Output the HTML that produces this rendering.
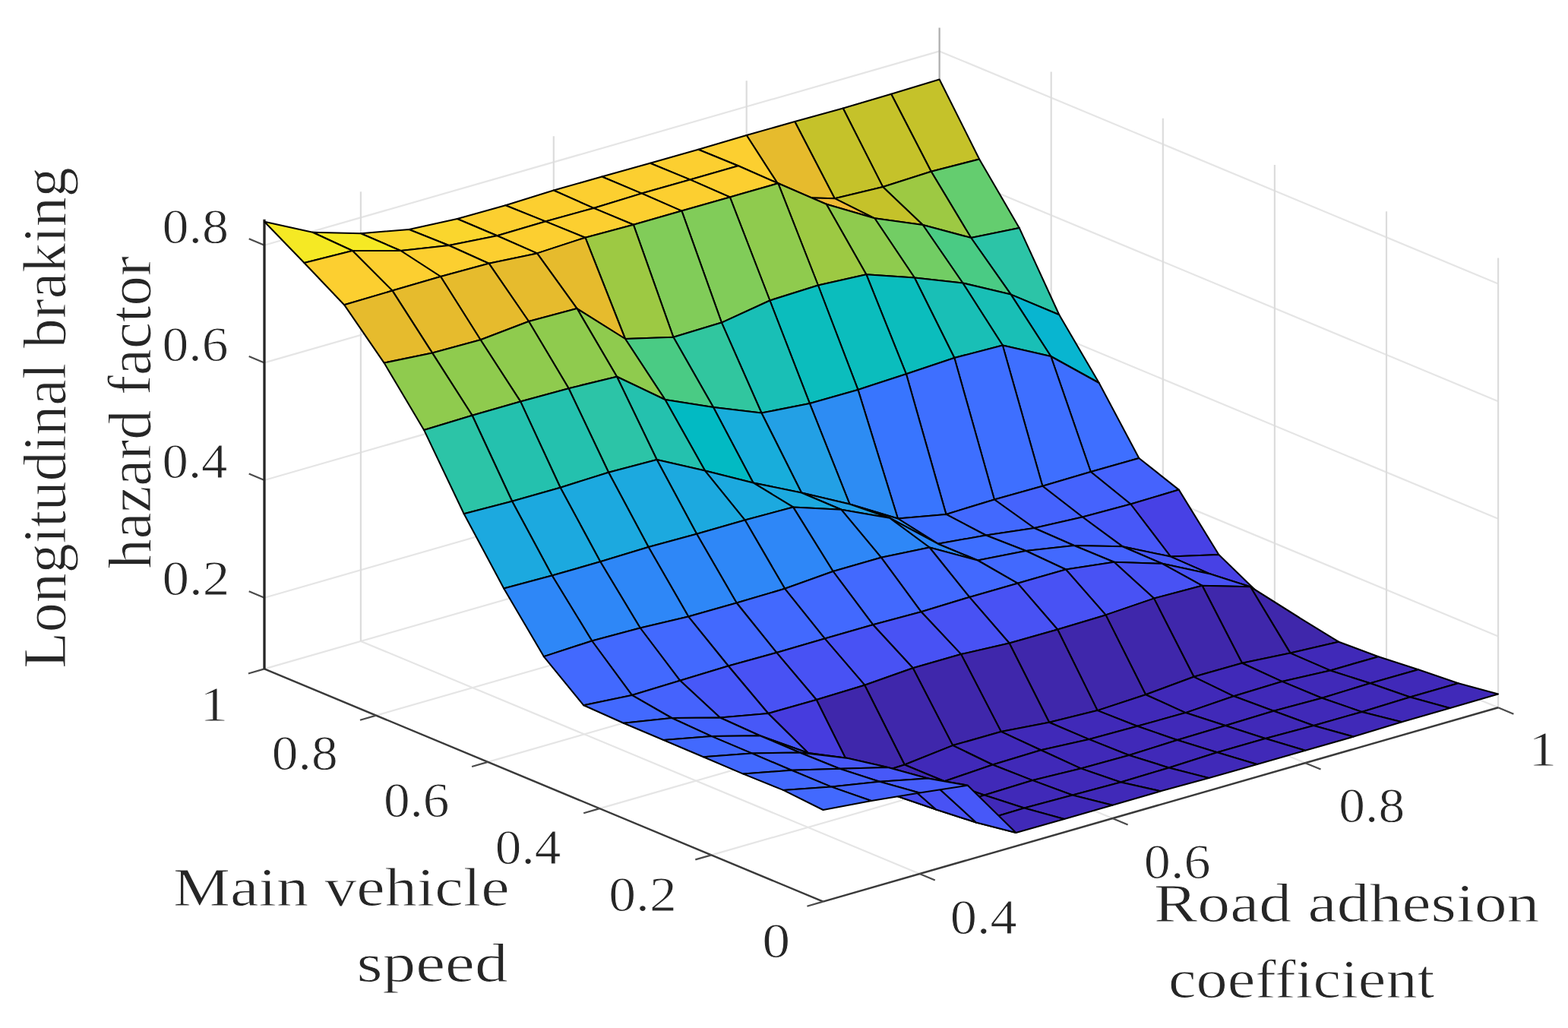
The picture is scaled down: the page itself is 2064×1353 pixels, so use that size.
<!DOCTYPE html>
<html><head><meta charset="utf-8"><title>Surface</title>
<style>html,body{margin:0;padding:0;background:#fff;overflow:hidden}svg{display:block}</style></head>
<body>
<svg width="2064" height="1353" viewBox="0 0 2064 1353">
<rect width="2064" height="1353" fill="#fff"/>
<g><line x1="1210.4" y1="1150.1" x2="474.9" y2="843.9" stroke="#e5e5e5" stroke-width="2.20"/><line x1="1464.3" y1="1077.1" x2="728.8" y2="770.9" stroke="#e5e5e5" stroke-width="2.20"/><line x1="1718.2" y1="1004.2" x2="982.7" y2="698.0" stroke="#e5e5e5" stroke-width="2.20"/><line x1="1972.1" y1="931.2" x2="1236.6" y2="625.0" stroke="#e5e5e5" stroke-width="2.20"/><line x1="936.4" y1="1125.4" x2="1825.0" y2="870.0" stroke="#e5e5e5" stroke-width="2.20"/><line x1="789.3" y1="1064.1" x2="1677.9" y2="808.7" stroke="#e5e5e5" stroke-width="2.20"/><line x1="642.2" y1="1002.9" x2="1530.8" y2="747.5" stroke="#e5e5e5" stroke-width="2.20"/><line x1="495.1" y1="941.6" x2="1383.7" y2="686.2" stroke="#e5e5e5" stroke-width="2.20"/><line x1="348.0" y1="880.4" x2="1236.6" y2="625.0" stroke="#e5e5e5" stroke-width="2.20"/><line x1="348.0" y1="786.7" x2="1236.6" y2="531.3" stroke="#e5e5e5" stroke-width="2.20"/><line x1="1236.6" y1="531.3" x2="1972.1" y2="837.5" stroke="#e5e5e5" stroke-width="2.20"/><line x1="348.0" y1="632.0" x2="1236.6" y2="376.6" stroke="#e5e5e5" stroke-width="2.20"/><line x1="1236.6" y1="376.6" x2="1972.1" y2="682.8" stroke="#e5e5e5" stroke-width="2.20"/><line x1="348.0" y1="477.4" x2="1236.6" y2="222.0" stroke="#e5e5e5" stroke-width="2.20"/><line x1="1236.6" y1="222.0" x2="1972.1" y2="528.2" stroke="#e5e5e5" stroke-width="2.20"/><line x1="348.0" y1="322.8" x2="1236.6" y2="67.4" stroke="#e5e5e5" stroke-width="2.20"/><line x1="1236.6" y1="67.4" x2="1972.1" y2="373.6" stroke="#e5e5e5" stroke-width="2.20"/></g>
<g><line x1="474.9" y1="843.9" x2="474.9" y2="252.3" stroke="#dcdcdc" stroke-width="2.20"/><line x1="728.8" y1="770.9" x2="728.8" y2="179.3" stroke="#dcdcdc" stroke-width="2.20"/><line x1="982.7" y1="698.0" x2="982.7" y2="106.3" stroke="#dcdcdc" stroke-width="2.20"/><line x1="1236.6" y1="625.0" x2="1236.6" y2="36.4" stroke="#adadad" stroke-width="2.20"/><line x1="1972.1" y1="931.2" x2="1972.1" y2="339.5" stroke="#dcdcdc" stroke-width="2.20"/><line x1="1825.0" y1="870.0" x2="1825.0" y2="278.3" stroke="#dcdcdc" stroke-width="2.20"/><line x1="1677.9" y1="808.7" x2="1677.9" y2="217.1" stroke="#dcdcdc" stroke-width="2.20"/><line x1="1530.8" y1="747.5" x2="1530.8" y2="155.8" stroke="#dcdcdc" stroke-width="2.20"/><line x1="1383.7" y1="686.2" x2="1383.7" y2="94.6" stroke="#dcdcdc" stroke-width="2.20"/></g>
<g><line x1="348.0" y1="880.4" x2="1083.5" y2="1186.6" stroke="#3a3a3a" stroke-width="2.50"/><line x1="1083.5" y1="1186.6" x2="1972.1" y2="931.2" stroke="#3a3a3a" stroke-width="2.50"/><line x1="348.0" y1="786.7" x2="327.7" y2="778.2" stroke="#4a4a4a" stroke-width="2.20"/><line x1="348.0" y1="632.0" x2="327.7" y2="623.6" stroke="#4a4a4a" stroke-width="2.20"/><line x1="348.0" y1="477.4" x2="327.7" y2="469.0" stroke="#4a4a4a" stroke-width="2.20"/><line x1="348.0" y1="322.8" x2="327.7" y2="314.3" stroke="#4a4a4a" stroke-width="2.20"/><line x1="1083.5" y1="1186.6" x2="1062.4" y2="1192.7" stroke="#4a4a4a" stroke-width="2.20"/><line x1="936.4" y1="1125.4" x2="915.3" y2="1131.4" stroke="#4a4a4a" stroke-width="2.20"/><line x1="789.3" y1="1064.1" x2="768.2" y2="1070.2" stroke="#4a4a4a" stroke-width="2.20"/><line x1="642.2" y1="1002.9" x2="621.1" y2="1009.0" stroke="#4a4a4a" stroke-width="2.20"/><line x1="495.1" y1="941.6" x2="474.0" y2="947.7" stroke="#4a4a4a" stroke-width="2.20"/><line x1="348.0" y1="880.4" x2="326.9" y2="886.5" stroke="#4a4a4a" stroke-width="2.20"/><line x1="1210.4" y1="1150.1" x2="1230.8" y2="1158.6" stroke="#4a4a4a" stroke-width="2.20"/><line x1="1464.3" y1="1077.1" x2="1484.6" y2="1085.6" stroke="#4a4a4a" stroke-width="2.20"/><line x1="1718.2" y1="1004.2" x2="1738.5" y2="1012.6" stroke="#4a4a4a" stroke-width="2.20"/><line x1="1972.1" y1="931.2" x2="1992.4" y2="939.7" stroke="#4a4a4a" stroke-width="2.20"/></g>
<g><line x1="348.0" y1="880.4" x2="348.0" y2="288.7" stroke="#262626" stroke-width="3.30"/></g>
<g stroke="#000" stroke-width="2.05" stroke-linejoin="round">
<polygon points="1225.7,225.7 1289.1,209.5 1236.6,104.5 1173.1,123.8" fill="#c5c22a"/>
<polygon points="1162.2,246.1 1225.7,225.7 1173.1,123.8 1109.7,142.5" fill="#c5c22a"/>
<polygon points="1098.7,261.2 1162.2,246.1 1109.7,142.5 1046.2,160.0" fill="#c5c22a"/>
<polygon points="1035.2,259.5 1098.7,261.2 1046.2,160.0 982.7,178.0" fill="#e6bb2d"/>
<polygon points="971.8,218.2 1035.2,259.5 982.7,178.0 919.2,196.8" fill="#fccf30"/>
<polygon points="908.3,236.4 971.8,218.2 919.2,196.8 855.8,214.8" fill="#fccf30"/>
<polygon points="844.8,254.6 908.3,236.4 855.8,214.8 792.3,232.5" fill="#fccf30"/>
<polygon points="781.4,273.9 844.8,254.6 792.3,232.5 728.8,250.5" fill="#fccf30"/>
<polygon points="717.9,291.4 781.4,273.9 728.8,250.5 665.4,270.2" fill="#fccf30"/>
<polygon points="654.4,310.3 717.9,291.4 665.4,270.2 601.9,288.0" fill="#fccf30"/>
<polygon points="590.9,323.0 654.4,310.3 601.9,288.0 538.4,302.0" fill="#fad62d"/>
<polygon points="527.5,330.0 590.9,323.0 538.4,302.0 474.9,307.2" fill="#fad62d"/>
<polygon points="464.0,330.0 527.5,330.0 474.9,307.2 411.5,305.7" fill="#f5e924"/>
<polygon points="400.5,346.0 464.0,330.0 411.5,305.7 348.0,291.8" fill="#f5e924"/>
<polygon points="1278.2,313.0 1341.7,299.9 1289.1,209.5 1225.7,225.7" fill="#64cd6f"/>
<polygon points="1214.7,296.0 1278.2,313.0 1225.7,225.7 1162.2,246.1" fill="#9dc943"/>
<polygon points="1151.3,287.3 1214.7,296.0 1162.2,246.1 1098.7,261.2" fill="#c5c22a"/>
<polygon points="1087.8,268.8 1151.3,287.3 1098.7,261.2 1035.2,259.5" fill="#f0ba36"/>
<polygon points="1024.3,241.3 1087.8,268.8 1035.2,259.5 971.8,218.2" fill="#fccf30"/>
<polygon points="960.8,259.4 1024.3,241.3 971.8,218.2 908.3,236.4" fill="#fccf30"/>
<polygon points="897.4,277.6 960.8,259.4 908.3,236.4 844.8,254.6" fill="#fccf30"/>
<polygon points="833.9,295.8 897.4,277.6 844.8,254.6 781.4,273.9" fill="#fccf30"/>
<polygon points="770.4,312.7 833.9,295.8 781.4,273.9 717.9,291.4" fill="#fccf30"/>
<polygon points="707.0,333.4 770.4,312.7 717.9,291.4 654.4,310.3" fill="#fccf30"/>
<polygon points="643.5,346.7 707.0,333.4 654.4,310.3 590.9,323.0" fill="#fccf30"/>
<polygon points="580.0,364.0 643.5,346.7 590.9,323.0 527.5,330.0" fill="#fccf30"/>
<polygon points="516.5,382.6 580.0,364.0 527.5,330.0 464.0,330.0" fill="#fccf30"/>
<polygon points="453.1,401.2 516.5,382.6 464.0,330.0 400.5,346.0" fill="#fccf30"/>
<polygon points="1330.7,387.6 1394.2,414.3 1341.7,299.9 1278.2,313.0" fill="#2cc4a7"/>
<polygon points="1267.3,372.5 1330.7,387.6 1278.2,313.0 1214.7,296.0" fill="#4acb84"/>
<polygon points="1203.8,365.5 1267.3,372.5 1214.7,296.0 1151.3,287.3" fill="#72cd64"/>
<polygon points="1140.3,361.2 1203.8,365.5 1151.3,287.3 1087.8,268.8" fill="#8fcb4e"/>
<polygon points="1076.9,375.5 1140.3,361.2 1087.8,268.8 1024.3,241.3" fill="#9dc943"/>
<polygon points="1013.4,395.5 1076.9,375.5 1024.3,241.3 960.8,259.4" fill="#8fcb4e"/>
<polygon points="949.9,424.6 1013.4,395.5 960.8,259.4 897.4,277.6" fill="#81cc59"/>
<polygon points="886.4,443.8 949.9,424.6 897.4,277.6 833.9,295.8" fill="#81cc59"/>
<polygon points="823.0,446.0 886.4,443.8 833.9,295.8 770.4,312.7" fill="#9dc943"/>
<polygon points="759.5,406.1 823.0,446.0 770.4,312.7 707.0,333.4" fill="#e6bb2d"/>
<polygon points="696.0,423.0 759.5,406.1 707.0,333.4 643.5,346.7" fill="#e6bb2d"/>
<polygon points="632.5,447.2 696.0,423.0 643.5,346.7 580.0,364.0" fill="#e6bb2d"/>
<polygon points="569.1,464.6 632.5,447.2 580.0,364.0 516.5,382.6" fill="#e6bb2d"/>
<polygon points="505.6,477.6 569.1,464.6 516.5,382.6 453.1,401.2" fill="#e6bb2d"/>
<polygon points="1383.3,469.0 1446.7,504.0 1394.2,414.3 1330.7,387.6" fill="#08b5d0"/>
<polygon points="1319.8,454.5 1383.3,469.0 1330.7,387.6 1267.3,372.5" fill="#19bfb6"/>
<polygon points="1256.3,471.0 1319.8,454.5 1267.3,372.5 1203.8,365.5" fill="#19bfb6"/>
<polygon points="1192.9,492.3 1256.3,471.0 1203.8,365.5 1140.3,361.2" fill="#0bbdbd"/>
<polygon points="1129.4,512.9 1192.9,492.3 1140.3,361.2 1076.9,375.5" fill="#0bbdbd"/>
<polygon points="1065.9,531.1 1129.4,512.9 1076.9,375.5 1013.4,395.5" fill="#0bbdbd"/>
<polygon points="1002.4,543.5 1065.9,531.1 1013.4,395.5 949.9,424.6" fill="#19bfb6"/>
<polygon points="939.0,536.1 1002.4,543.5 949.9,424.6 886.4,443.8" fill="#31c69f"/>
<polygon points="875.5,526.0 939.0,536.1 886.4,443.8 823.0,446.0" fill="#4acb84"/>
<polygon points="812.0,495.7 875.5,526.0 823.0,446.0 759.5,406.1" fill="#8fcb4e"/>
<polygon points="748.6,511.2 812.0,495.7 759.5,406.1 696.0,423.0" fill="#8fcb4e"/>
<polygon points="685.1,528.4 748.6,511.2 696.0,423.0 632.5,447.2" fill="#8fcb4e"/>
<polygon points="621.6,546.8 685.1,528.4 632.5,447.2 569.1,464.6" fill="#8fcb4e"/>
<polygon points="558.1,565.9 621.6,546.8 569.1,464.6 505.6,477.6" fill="#8fcb4e"/>
<polygon points="1435.8,621.0 1499.3,603.0 1446.7,504.0 1383.3,469.0" fill="#3e6fff"/>
<polygon points="1372.3,639.7 1435.8,621.0 1383.3,469.0 1319.8,454.5" fill="#3e6fff"/>
<polygon points="1308.9,657.5 1372.3,639.7 1319.8,454.5 1256.3,471.0" fill="#3e6fff"/>
<polygon points="1245.4,676.9 1308.9,657.5 1256.3,471.0 1192.9,492.3" fill="#3e6fff"/>
<polygon points="1181.9,682.5 1245.4,676.9 1192.9,492.3 1129.4,512.9" fill="#3875fe"/>
<polygon points="1118.5,663.6 1181.9,682.5 1129.4,512.9 1065.9,531.1" fill="#2d8cf3"/>
<polygon points="1055.0,648.5 1118.5,663.6 1065.9,531.1 1002.4,543.5" fill="#23a0e5"/>
<polygon points="991.5,635.4 1055.0,648.5 1002.4,543.5 939.0,536.1" fill="#18addb"/>
<polygon points="928.0,619.6 991.5,635.4 939.0,536.1 875.5,526.0" fill="#02bac3"/>
<polygon points="864.6,605.0 928.0,619.6 875.5,526.0 812.0,495.7" fill="#24c1ae"/>
<polygon points="801.1,621.7 864.6,605.0 812.0,495.7 748.6,511.2" fill="#2cc4a7"/>
<polygon points="737.6,641.7 801.1,621.7 748.6,511.2 685.1,528.4" fill="#24c1ae"/>
<polygon points="674.1,659.8 737.6,641.7 685.1,528.4 621.6,546.8" fill="#24c1ae"/>
<polygon points="610.7,676.3 674.1,659.8 621.6,546.8 558.1,565.9" fill="#2cc4a7"/>
<polygon points="1488.3,663.5 1551.8,644.6 1499.3,603.0 1435.8,621.0" fill="#4563fd"/>
<polygon points="1424.9,680.5 1488.3,663.5 1435.8,621.0 1372.3,639.7" fill="#4563fd"/>
<polygon points="1361.4,695.0 1424.9,680.5 1372.3,639.7 1308.9,657.5" fill="#4563fd"/>
<polygon points="1297.9,704.5 1361.4,695.0 1308.9,657.5 1245.4,676.9" fill="#4269fe"/>
<polygon points="1234.5,715.7 1297.9,704.5 1245.4,676.9 1181.9,682.5" fill="#3e6fff"/>
<polygon points="1171.0,681.7 1234.5,715.7 1181.9,682.5 1118.5,663.6" fill="#2d8cf3"/>
<polygon points="1107.5,670.8 1171.0,681.7 1118.5,663.6 1055.0,648.5" fill="#23a0e5"/>
<polygon points="1044.0,667.4 1107.5,670.8 1055.0,648.5 991.5,635.4" fill="#1ca9df"/>
<polygon points="980.6,684.6 1044.0,667.4 991.5,635.4 928.0,619.6" fill="#1ca9df"/>
<polygon points="917.1,702.8 980.6,684.6 928.0,619.6 864.6,605.0" fill="#1ca9df"/>
<polygon points="853.6,719.9 917.1,702.8 864.6,605.0 801.1,621.7" fill="#1ca9df"/>
<polygon points="790.2,739.3 853.6,719.9 801.1,621.7 737.6,641.7" fill="#1ca9df"/>
<polygon points="726.7,757.5 790.2,739.3 737.6,641.7 674.1,659.8" fill="#1ca9df"/>
<polygon points="663.2,774.4 726.7,757.5 674.1,659.8 610.7,676.3" fill="#1ca9df"/>
<polygon points="1540.9,732.6 1604.3,730.0 1551.8,644.6 1488.3,663.5" fill="#4741e5"/>
<polygon points="1477.4,719.2 1540.9,732.6 1488.3,663.5 1424.9,680.5" fill="#4758f8"/>
<polygon points="1413.9,718.0 1477.4,719.2 1424.9,680.5 1361.4,695.0" fill="#4563fd"/>
<polygon points="1350.5,725.0 1413.9,718.0 1361.4,695.0 1297.9,704.5" fill="#4269fe"/>
<polygon points="1287.0,737.5 1350.5,725.0 1297.9,704.5 1234.5,715.7" fill="#3e6fff"/>
<polygon points="1223.5,720.5 1287.0,737.5 1234.5,715.7 1171.0,681.7" fill="#2e87f7"/>
<polygon points="1160.0,733.8 1223.5,720.5 1171.0,681.7 1107.5,670.8" fill="#2e87f7"/>
<polygon points="1096.6,752.0 1160.0,733.8 1107.5,670.8 1044.0,667.4" fill="#2e87f7"/>
<polygon points="1033.1,774.8 1096.6,752.0 1044.0,667.4 980.6,684.6" fill="#2e87f7"/>
<polygon points="969.6,793.5 1033.1,774.8 980.6,684.6 917.1,702.8" fill="#2e87f7"/>
<polygon points="906.2,811.6 969.6,793.5 917.1,702.8 853.6,719.9" fill="#2e87f7"/>
<polygon points="842.7,826.5 906.2,811.6 853.6,719.9 790.2,739.3" fill="#2e87f7"/>
<polygon points="779.2,843.5 842.7,826.5 790.2,739.3 726.7,757.5" fill="#2e87f7"/>
<polygon points="715.8,864.1 779.2,843.5 726.7,757.5 663.2,774.4" fill="#2e87f7"/>
<polygon points="1593.4,755.6 1656.9,781.0 1604.3,730.0 1540.9,732.6" fill="#4741e5"/>
<polygon points="1529.9,741.8 1593.4,755.6 1540.9,732.6 1477.4,719.2" fill="#4758f8"/>
<polygon points="1466.5,739.8 1529.9,741.8 1477.4,719.2 1413.9,718.0" fill="#4563fd"/>
<polygon points="1403.0,749.5 1466.5,739.8 1413.9,718.0 1350.5,725.0" fill="#4269fe"/>
<polygon points="1339.5,767.7 1403.0,749.5 1350.5,725.0 1287.0,737.5" fill="#4269fe"/>
<polygon points="1276.1,785.9 1339.5,767.7 1287.0,737.5 1223.5,720.5" fill="#4269fe"/>
<polygon points="1212.6,805.3 1276.1,785.9 1223.5,720.5 1160.0,733.8" fill="#4269fe"/>
<polygon points="1149.1,822.2 1212.6,805.3 1160.0,733.8 1096.6,752.0" fill="#4269fe"/>
<polygon points="1085.6,840.4 1149.1,822.2 1096.6,752.0 1033.1,774.8" fill="#4269fe"/>
<polygon points="1022.2,858.9 1085.6,840.4 1033.1,774.8 969.6,793.5" fill="#4269fe"/>
<polygon points="958.7,876.5 1022.2,858.9 969.6,793.5 906.2,811.6" fill="#4269fe"/>
<polygon points="895.2,895.8 958.7,876.5 906.2,811.6 842.7,826.5" fill="#4269fe"/>
<polygon points="831.8,914.9 895.2,895.8 842.7,826.5 779.2,843.5" fill="#4269fe"/>
<polygon points="768.3,928.3 831.8,914.9 779.2,843.5 715.8,864.1" fill="#4269fe"/>
<polygon points="1645.9,772.3 1709.4,812.4 1656.9,781.0 1593.4,755.6" fill="#4747eb"/>
<polygon points="1582.5,770.8 1645.9,772.3 1593.4,755.6 1529.9,741.8" fill="#4852f4"/>
<polygon points="1519.0,787.6 1582.5,770.8 1529.9,741.8 1466.5,739.8" fill="#4852f4"/>
<polygon points="1455.5,809.4 1519.0,787.6 1466.5,739.8 1403.0,749.5" fill="#4852f4"/>
<polygon points="1392.1,828.5 1455.5,809.4 1403.0,749.5 1339.5,767.7" fill="#4852f4"/>
<polygon points="1328.6,846.5 1392.1,828.5 1339.5,767.7 1276.1,785.9" fill="#4852f4"/>
<polygon points="1265.1,861.1 1328.6,846.5 1276.1,785.9 1212.6,805.3" fill="#4852f4"/>
<polygon points="1201.7,879.3 1265.1,861.1 1212.6,805.3 1149.1,822.2" fill="#4852f4"/>
<polygon points="1138.2,901.7 1201.7,879.3 1149.1,822.2 1085.6,840.4" fill="#4852f4"/>
<polygon points="1074.7,921.0 1138.2,901.7 1085.6,840.4 1022.2,858.9" fill="#4852f4"/>
<polygon points="1011.2,939.0 1074.7,921.0 1022.2,858.9 958.7,876.5" fill="#4852f4"/>
<polygon points="947.8,944.5 1011.2,939.0 958.7,876.5 895.2,895.8" fill="#4758f8"/>
<polygon points="884.3,945.0 947.8,944.5 895.2,895.8 831.8,914.9" fill="#4563fd"/>
<polygon points="820.8,951.8 884.3,945.0 831.8,914.9 768.3,928.3" fill="#4269fe"/>
<polygon points="1698.5,859.6 1762.0,844.7 1709.4,812.4 1645.9,772.3" fill="#3f27ab"/>
<polygon points="1635.0,872.7 1698.5,859.6 1645.9,772.3 1582.5,770.8" fill="#3f27ab"/>
<polygon points="1571.5,890.8 1635.0,872.7 1582.5,770.8 1519.0,787.6" fill="#3f27ab"/>
<polygon points="1508.1,914.2 1571.5,890.8 1519.0,787.6 1455.5,809.4" fill="#3f27ab"/>
<polygon points="1444.6,935.1 1508.1,914.2 1455.5,809.4 1392.1,828.5" fill="#3f27ab"/>
<polygon points="1381.1,950.8 1444.6,935.1 1392.1,828.5 1328.6,846.5" fill="#3f27ab"/>
<polygon points="1317.7,962.9 1381.1,950.8 1328.6,846.5 1265.1,861.1" fill="#3f27ab"/>
<polygon points="1254.2,981.1 1317.7,962.9 1265.1,861.1 1201.7,879.3" fill="#3f27ab"/>
<polygon points="1190.7,1006.5 1254.2,981.1 1201.7,879.3 1138.2,901.7" fill="#3f27ab"/>
<polygon points="1127.2,1026.5 1190.7,1006.5 1138.2,901.7 1074.7,921.0" fill="#3f27ab"/>
<polygon points="1063.8,991.0 1127.2,1026.5 1074.7,921.0 1011.2,939.0" fill="#463cde"/>
<polygon points="1000.3,968.2 1063.8,991.0 1011.2,939.0 947.8,944.5" fill="#4758f8"/>
<polygon points="936.8,969.1 1000.3,968.2 947.8,944.5 884.3,945.0" fill="#4563fd"/>
<polygon points="873.4,974.0 936.8,969.1 884.3,945.0 820.8,951.8" fill="#4269fe"/>
<polygon points="1751.0,882.4 1814.5,864.2 1762.0,844.7 1698.5,859.6" fill="#4029b8"/>
<polygon points="1687.5,896.9 1751.0,882.4 1698.5,859.6 1635.0,872.7" fill="#4029b8"/>
<polygon points="1624.1,916.3 1687.5,896.9 1635.0,872.7 1571.5,890.8" fill="#4029b8"/>
<polygon points="1560.6,938.1 1624.1,916.3 1571.5,890.8 1508.1,914.2" fill="#4029b8"/>
<polygon points="1497.1,955.7 1560.6,938.1 1508.1,914.2 1444.6,935.1" fill="#4029b8"/>
<polygon points="1433.7,973.1 1497.1,955.7 1444.6,935.1 1381.1,950.8" fill="#4029b8"/>
<polygon points="1370.2,987.2 1433.7,973.1 1381.1,950.8 1317.7,962.9" fill="#4029b8"/>
<polygon points="1306.7,1006.5 1370.2,987.2 1317.7,962.9 1254.2,981.1" fill="#4029b8"/>
<polygon points="1243.2,1028.3 1306.7,1006.5 1254.2,981.1 1190.7,1006.5" fill="#4029b8"/>
<polygon points="1179.8,1047.5 1243.2,1028.3 1190.7,1006.5 1127.2,1026.5" fill="#4029b8"/>
<polygon points="1116.3,998.0 1179.8,1047.5 1127.2,1026.5 1063.8,991.0" fill="#4747eb"/>
<polygon points="1052.8,990.5 1116.3,998.0 1063.8,991.0 1000.3,968.2" fill="#4758f8"/>
<polygon points="989.4,991.4 1052.8,990.5 1000.3,968.2 936.8,969.1" fill="#4563fd"/>
<polygon points="925.9,996.3 989.4,991.4 936.8,969.1 873.4,974.0" fill="#4269fe"/>
<polygon points="1803.6,899.3 1867.0,881.2 1814.5,864.2 1751.0,882.4" fill="#4029b8"/>
<polygon points="1740.1,918.7 1803.6,899.3 1751.0,882.4 1687.5,896.9" fill="#4029b8"/>
<polygon points="1676.6,935.7 1740.1,918.7 1687.5,896.9 1624.1,916.3" fill="#4029b8"/>
<polygon points="1613.1,955.0 1676.6,935.7 1624.1,916.3 1560.6,938.1" fill="#4029b8"/>
<polygon points="1549.7,974.0 1613.1,955.0 1560.6,938.1 1497.1,955.7" fill="#4029b8"/>
<polygon points="1486.2,994.0 1549.7,974.0 1497.1,955.7 1433.7,973.1" fill="#4029b8"/>
<polygon points="1422.7,1011.4 1486.2,994.0 1433.7,973.1 1370.2,987.2" fill="#4029b8"/>
<polygon points="1359.3,1027.1 1422.7,1011.4 1370.2,987.2 1306.7,1006.5" fill="#4029b8"/>
<polygon points="1295.8,1046.5 1359.3,1027.1 1306.7,1006.5 1243.2,1028.3" fill="#4029b8"/>
<polygon points="1232.3,1065.5 1295.8,1046.5 1243.2,1028.3 1179.8,1047.5" fill="#4029b8"/>
<polygon points="1168.8,1010.0 1232.3,1065.5 1179.8,1047.5 1116.3,998.0" fill="#484df0"/>
<polygon points="1105.4,1011.8 1168.8,1010.0 1116.3,998.0 1052.8,990.5" fill="#4758f8"/>
<polygon points="1041.9,1013.7 1105.4,1011.8 1052.8,990.5 989.4,991.4" fill="#4563fd"/>
<polygon points="978.4,1018.6 1041.9,1013.7 989.4,991.4 925.9,996.3" fill="#4269fe"/>
<polygon points="1856.1,917.5 1919.6,899.3 1867.0,881.2 1803.6,899.3" fill="#4029b8"/>
<polygon points="1792.6,936.9 1856.1,917.5 1803.6,899.3 1740.1,918.7" fill="#4029b8"/>
<polygon points="1729.2,955.0 1792.6,936.9 1740.1,918.7 1676.6,935.7" fill="#4029b8"/>
<polygon points="1665.7,972.0 1729.2,955.0 1676.6,935.7 1613.1,955.0" fill="#4029b8"/>
<polygon points="1602.2,990.2 1665.7,972.0 1613.1,955.0 1549.7,974.0" fill="#4029b8"/>
<polygon points="1538.7,1010.4 1602.2,990.2 1549.7,974.0 1486.2,994.0" fill="#4029b8"/>
<polygon points="1475.3,1029.5 1538.7,1010.4 1486.2,994.0 1422.7,1011.4" fill="#4029b8"/>
<polygon points="1411.8,1046.5 1475.3,1029.5 1422.7,1011.4 1359.3,1027.1" fill="#4029b8"/>
<polygon points="1348.3,1063.5 1411.8,1046.5 1359.3,1027.1 1295.8,1046.5" fill="#4029b8"/>
<polygon points="1284.9,1082.5 1348.3,1063.5 1295.8,1046.5 1232.3,1065.5" fill="#4029b8"/>
<polygon points="1221.4,1024.5 1284.9,1082.5 1232.3,1065.5 1168.8,1010.0" fill="#4852f4"/>
<polygon points="1157.9,1028.8 1221.4,1024.5 1168.8,1010.0 1105.4,1011.8" fill="#4758f8"/>
<polygon points="1094.4,1035.6 1157.9,1028.8 1105.4,1011.8 1041.9,1013.7" fill="#4563fd"/>
<polygon points="1031.0,1039.9 1094.4,1035.6 1041.9,1013.7 978.4,1018.6" fill="#4269fe"/>
<polygon points="1908.6,932.0 1972.1,913.4 1919.6,899.3 1856.1,917.5" fill="#4029b8"/>
<polygon points="1845.2,950.2 1908.6,932.0 1856.1,917.5 1792.6,936.9" fill="#4029b8"/>
<polygon points="1781.7,969.6 1845.2,950.2 1792.6,936.9 1729.2,955.0" fill="#4029b8"/>
<polygon points="1718.2,987.7 1781.7,969.6 1729.2,955.0 1665.7,972.0" fill="#4029b8"/>
<polygon points="1654.7,1005.9 1718.2,987.7 1665.7,972.0 1602.2,990.2" fill="#4029b8"/>
<polygon points="1591.3,1024.1 1654.7,1005.9 1602.2,990.2 1538.7,1010.4" fill="#4029b8"/>
<polygon points="1527.8,1041.3 1591.3,1024.1 1538.7,1010.4 1475.3,1029.5" fill="#4029b8"/>
<polygon points="1464.3,1059.8 1527.8,1041.3 1475.3,1029.5 1411.8,1046.5" fill="#4029b8"/>
<polygon points="1400.9,1078.0 1464.3,1059.8 1411.8,1046.5 1348.3,1063.5" fill="#4029b8"/>
<polygon points="1337.4,1096.0 1400.9,1078.0 1348.3,1063.5 1284.9,1082.5" fill="#4029b8"/>
<polygon points="1273.9,1033.7 1337.4,1096.0 1284.9,1082.5 1221.4,1024.5" fill="#4758f8"/>
<polygon points="1210.4,1043.5 1273.9,1033.7 1221.4,1024.5 1157.9,1028.8" fill="#465efb"/>
<polygon points="1147.0,1054.0 1210.4,1043.5 1157.9,1028.8 1094.4,1035.6" fill="#4563fd"/>
<polygon points="1083.5,1066.0 1147.0,1054.0 1094.4,1035.6 1031.0,1039.9" fill="#4269fe"/>
</g>
<g font-family="'Liberation Serif', serif" fill="#262626" stroke="#fff" stroke-width="0.9">
<text transform="translate(213.55,320.00) scale(1.0606,1)" font-size="66.0">0.8</text>
<text transform="translate(213.57,474.60) scale(1.0538,1)" font-size="66.0">0.6</text>
<text transform="translate(213.60,629.20) scale(1.0405,1)" font-size="66.0">0.4</text>
<text transform="translate(213.51,783.00) scale(1.0763,1)" font-size="66.0">0.2</text>
<text transform="translate(263.32,949.40) scale(1.1269,1)" font-size="66.0">1</text>
<text transform="translate(357.87,1012.60) scale(1.0516,1)" font-size="66.0">0.8</text>
<text transform="translate(504.88,1074.60) scale(1.0500,1)" font-size="66.0">0.6</text>
<text transform="translate(651.78,1137.00) scale(1.0494,1)" font-size="66.0">0.4</text>
<text transform="translate(801.29,1199.30) scale(1.0854,1)" font-size="66.0">0.2</text>
<text transform="translate(1003.21,1260.40) scale(1.1179,1)" font-size="66.0">0</text>
<text transform="translate(1250.74,1228.50) scale(1.0658,1)" font-size="66.0">0.4</text>
<text transform="translate(1505.84,1155.70) scale(1.0628,1)" font-size="66.0">0.6</text>
<text transform="translate(1762.37,1082.40) scale(1.0516,1)" font-size="66.0">0.8</text>
<text transform="translate(2012.32,1008.30) scale(1.1269,1)" font-size="66.0">1</text>
<text transform="translate(228.03,1191.60) scale(1.1635,1)" font-size="72.5">Main vehicle</text>
<text transform="translate(469.38,1292.10) scale(1.2074,1)" font-size="72.5">speed</text>
<text transform="translate(1519.09,1213.30) scale(1.1834,1)" font-size="72.5">Road adhesion</text>
<text transform="translate(1538.08,1312.70) scale(1.1352,1)" font-size="72.5">coefficient</text>
<text transform="translate(86.00,879.68) rotate(-90) scale(1.0737,1.110)" font-size="72.5">Longitudinal braking</text>
<text transform="translate(197.80,748.51) rotate(-90) scale(1.0815,1.110)" font-size="72.5">hazard factor</text>
</g>
</svg>
</body></html>
